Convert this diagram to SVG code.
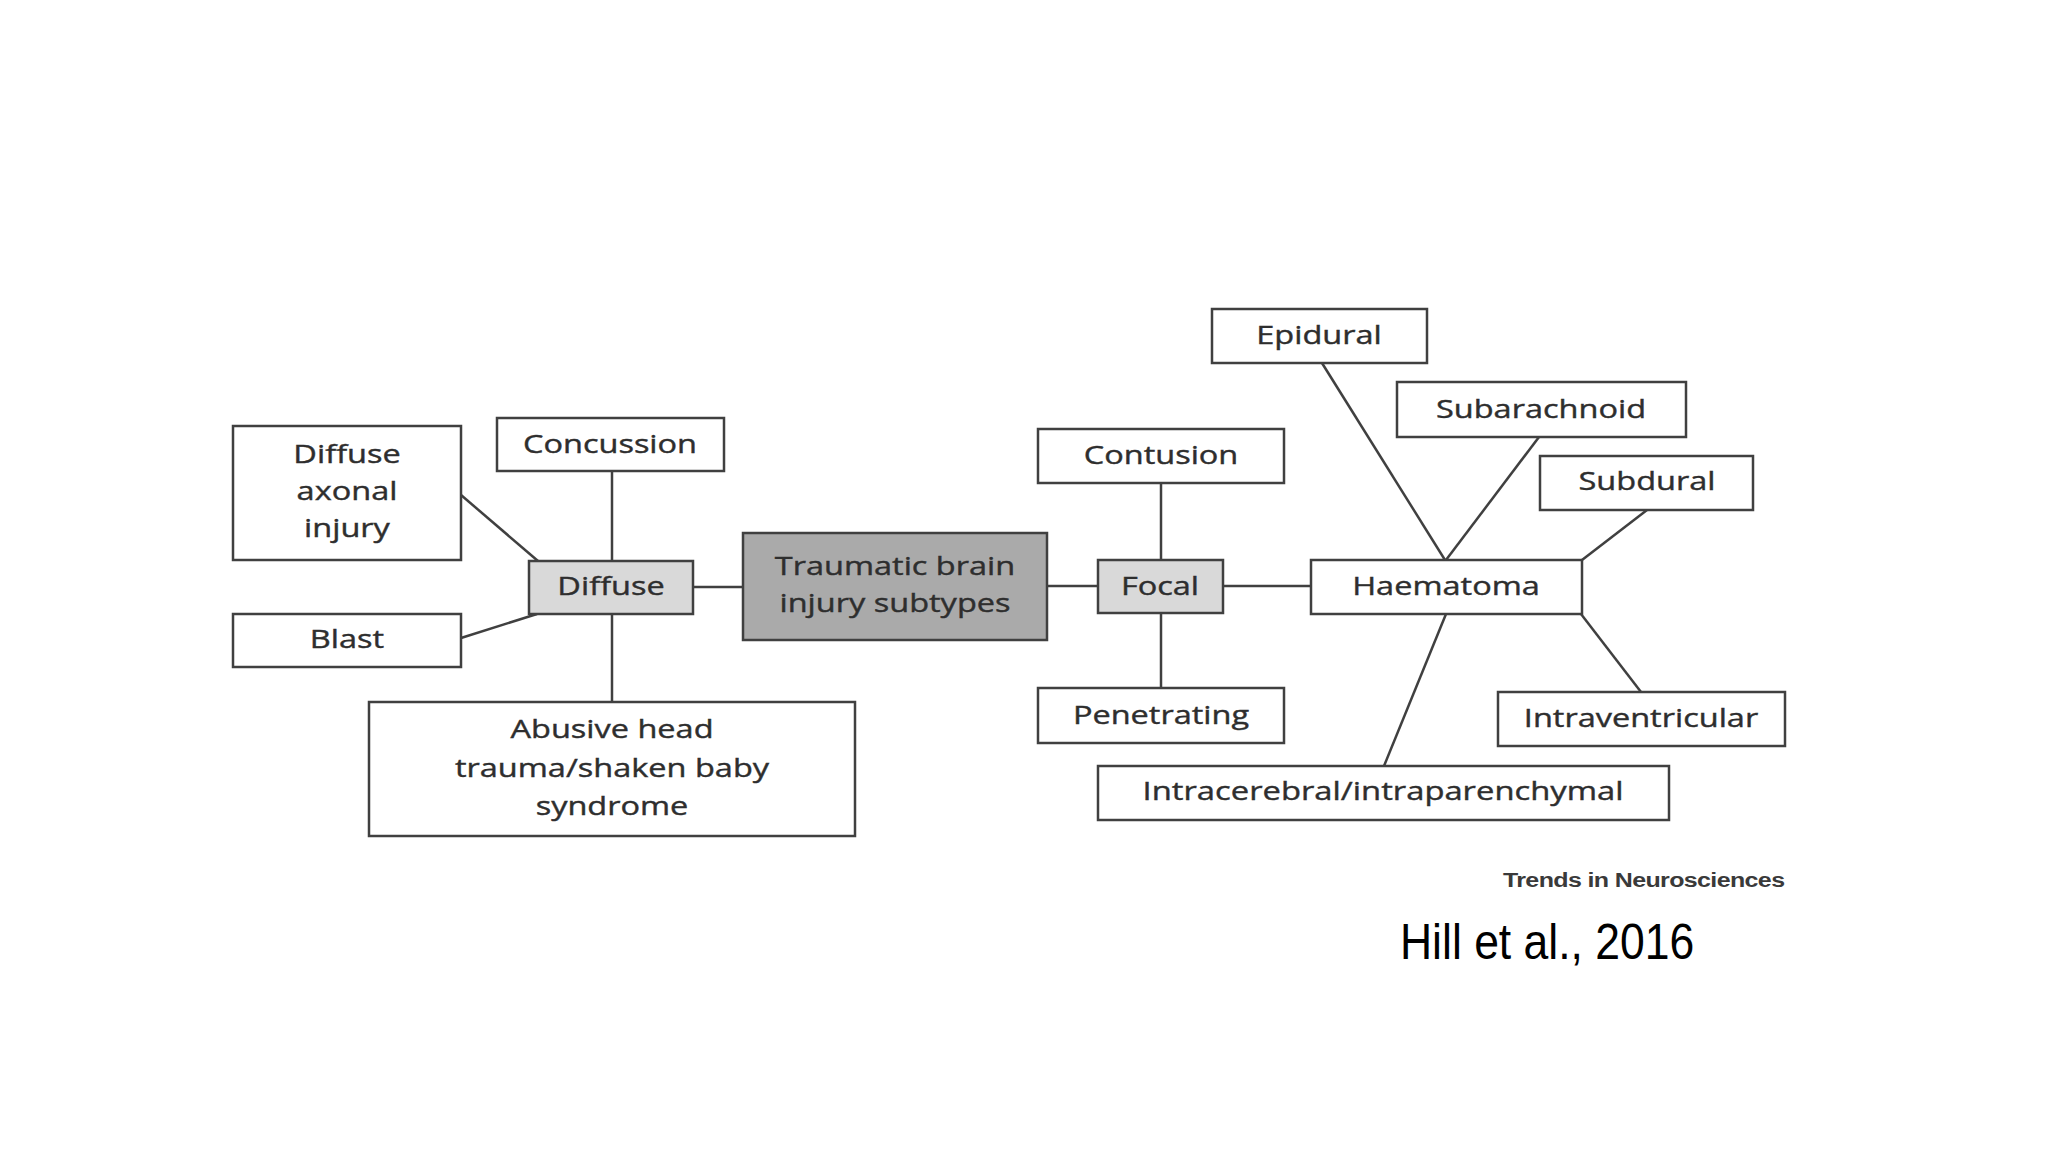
<svg xmlns="http://www.w3.org/2000/svg" width="2048" height="1152" viewBox="0 0 2048 1152">
<style>
.box{fill:#ffffff;stroke:#404040;stroke-width:2.5}
.lite{fill:#d9d9d9;stroke:#404040;stroke-width:2.5}
.dark{fill:#aaaaaa;stroke:#404040;stroke-width:2.5}
.t{font-family:"Open Sans","DejaVu Sans",sans-serif;font-size:26px;fill:#2e2e2e;stroke:#2e2e2e;stroke-width:0.4;text-anchor:middle}
.conn line{stroke:#404040;stroke-width:2.5;fill:none}
</style>
<rect width="2048" height="1152" fill="#ffffff"/>
<g id="connectors" class="conn">
<line x1="461" y1="495" x2="538" y2="561"/>
<line x1="461" y1="638" x2="537" y2="614"/>
<line x1="612" y1="471" x2="612" y2="561"/>
<line x1="612" y1="614" x2="612" y2="702"/>
<line x1="693" y1="587" x2="743" y2="587"/>
<line x1="1047" y1="586" x2="1098" y2="586"/>
<line x1="1161" y1="483" x2="1161" y2="560"/>
<line x1="1161" y1="613" x2="1161" y2="688"/>
<line x1="1223" y1="586" x2="1311" y2="586"/>
<line x1="1445" y1="560" x2="1322" y2="363"/>
<line x1="1446" y1="560" x2="1539" y2="437"/>
<line x1="1582" y1="560" x2="1647" y2="510"/>
<line x1="1446" y1="614" x2="1384" y2="766"/>
<line x1="1581" y1="614" x2="1641" y2="692"/>
</g>
<g id="tbi"><rect class="dark" x="743" y="533" width="304" height="107"/>
<text class="t" transform="translate(895,575) scale(1.25,1)">Traumatic brain</text>
<text class="t" transform="translate(895,612) scale(1.25,1)">injury subtypes</text></g>
<g id="diffuse"><rect class="lite" x="529" y="561" width="164" height="53"/>
<text class="t" transform="translate(611,595) scale(1.25,1)">Diffuse</text></g>
<g id="dai"><rect class="box" x="233" y="426" width="228" height="134"/>
<text class="t" transform="translate(347,463) scale(1.25,1)">Diffuse</text>
<text class="t" transform="translate(347,500) scale(1.25,1)">axonal</text>
<text class="t" transform="translate(347,537) scale(1.25,1)">injury</text></g>
<g id="concussion"><rect class="box" x="497" y="418" width="227" height="53"/>
<text class="t" transform="translate(610,453) scale(1.25,1)">Concussion</text></g>
<g id="blast"><rect class="box" x="233" y="614" width="228" height="53"/>
<text class="t" transform="translate(347,648) scale(1.25,1)">Blast</text></g>
<g id="abusive"><rect class="box" x="369" y="702" width="486" height="134"/>
<text class="t" transform="translate(612,738) scale(1.25,1)">Abusive head</text>
<text class="t" transform="translate(612,777) scale(1.25,1)">trauma/shaken baby</text>
<text class="t" transform="translate(612,815) scale(1.25,1)">syndrome</text></g>
<g id="focal"><rect class="lite" x="1098" y="560" width="125" height="53"/>
<text class="t" transform="translate(1160,595) scale(1.25,1)">Focal</text></g>
<g id="contusion"><rect class="box" x="1038" y="429" width="246" height="54"/>
<text class="t" transform="translate(1161,464) scale(1.25,1)">Contusion</text></g>
<g id="penetrating"><rect class="box" x="1038" y="688" width="246" height="55"/>
<text class="t" transform="translate(1161,724) scale(1.25,1)">Penetrating</text></g>
<g id="haematoma"><rect class="box" x="1311" y="560" width="271" height="54"/>
<text class="t" transform="translate(1446,595) scale(1.25,1)">Haematoma</text></g>
<g id="epidural"><rect class="box" x="1212" y="309" width="215" height="54"/>
<text class="t" transform="translate(1319,344) scale(1.25,1)">Epidural</text></g>
<g id="subarachnoid"><rect class="box" x="1397" y="382" width="289" height="55"/>
<text class="t" transform="translate(1541,418) scale(1.25,1)">Subarachnoid</text></g>
<g id="subdural"><rect class="box" x="1540" y="456" width="213" height="54"/>
<text class="t" transform="translate(1647,490) scale(1.25,1)">Subdural</text></g>
<g id="intraventricular"><rect class="box" x="1498" y="692" width="287" height="54"/>
<text class="t" transform="translate(1641,727) scale(1.25,1)">Intraventricular</text></g>
<g id="intracerebral"><rect class="box" x="1098" y="766" width="571" height="54"/>
<text class="t" transform="translate(1383,800) scale(1.26,1)">Intracerebral/intraparenchymal</text></g>
<text transform="translate(1503,887) scale(1.25,1)" font-family="Liberation Sans, Arial, sans-serif" font-weight="bold" font-size="20" letter-spacing="-0.5" fill="#3a3a3a">Trends in Neurosciences</text>
<text transform="translate(1400,959) scale(0.89,1)" font-family="Liberation Sans, Arial, sans-serif" font-size="50" fill="#000000">Hill et al., 2016</text>
</svg>
